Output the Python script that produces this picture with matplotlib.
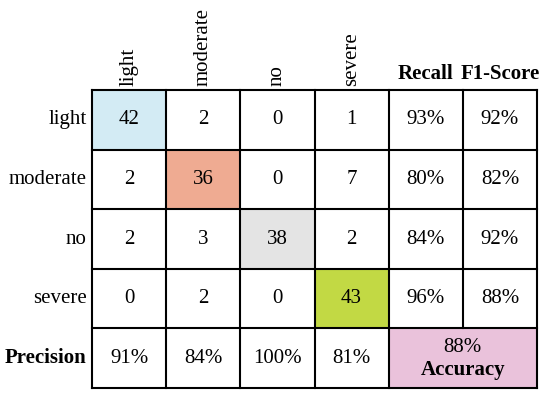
import matplotlib.pyplot as plt
from matplotlib.patches import Rectangle

classes = ['light', 'moderate', 'no', 'severe']
counts = [[42, 2, 0, 1],
          [2, 36, 0, 7],
          [2, 3, 38, 2],
          [0, 2, 0, 43]]
recall = ['93%', '80%', '84%', '96%']
f1_score = ['92%', '82%', '92%', '88%']
precision = ['91%', '84%', '100%', '81%']
accuracy = '88%'
diag_colors = ['#d3ebf4', '#efab92', '#e4e4e4', '#c2d944']
acc_color = '#eac2db'

plt.rcParams['font.family'] = ['Liberation Serif', 'DejaVu Serif']
fs = 15

fig = plt.figure(figsize=(5.5, 4), dpi=100)
ax = fig.add_axes([92 / 550, 1 - 388 / 400, 445 / 550, 298 / 400])
ax.set_xlim(0, 6)
ax.set_ylim(5, 0)
ax.axis('off')

n = len(classes)
# confusion matrix cells
for i in range(n):
    for j in range(n):
        fc = diag_colors[i] if i == j else 'white'
        ax.add_patch(Rectangle((j, i), 1, 1, facecolor=fc, edgecolor='none'))
        ax.text(j + 0.5, i + 0.5, str(counts[i][j]), ha='center', va='center', fontsize=fs)
    ax.text(4.5, i + 0.5, recall[i], ha='center', va='center', fontsize=fs)
    ax.text(5.5, i + 0.5, f1_score[i], ha='center', va='center', fontsize=fs)
    ax.text(-0.07, i + 0.5, classes[i], ha='right', va='center', fontsize=fs)
    ax.text(i + 0.5, -0.07, classes[i], ha='center', va='bottom', rotation=90, fontsize=fs)

# precision row
for j in range(n):
    ax.text(j + 0.5, 4.5, precision[j], ha='center', va='center', fontsize=fs)
ax.text(-0.07, 4.5, 'Precision', ha='right', va='center', fontsize=fs, fontweight='bold')

# accuracy cell
ax.add_patch(Rectangle((4, 4), 2, 1, facecolor=acc_color, edgecolor='none'))
ax.text(5, 4.32, accuracy, ha='center', va='center', fontsize=fs)
ax.text(5, 4.7, 'Accuracy', ha='center', va='center', fontsize=fs, fontweight='bold')

ax.text(4.5, -0.18, 'Recall', ha='center', va='baseline', fontsize=fs, fontweight='bold')
ax.text(5.5, -0.18, 'F1-Score', ha='center', va='baseline', fontsize=fs, fontweight='bold')

# grid lines
lw = 1.5
for k in range(7):
    top = 4 if k == 5 else 5
    ax.plot([k, k], [0, top], color='black', lw=lw, clip_on=False, solid_capstyle='projecting')
for r in range(6):
    ax.plot([0, 6], [r, r], color='black', lw=lw, clip_on=False, solid_capstyle='projecting')

fig.savefig('out.png', dpi=100)
